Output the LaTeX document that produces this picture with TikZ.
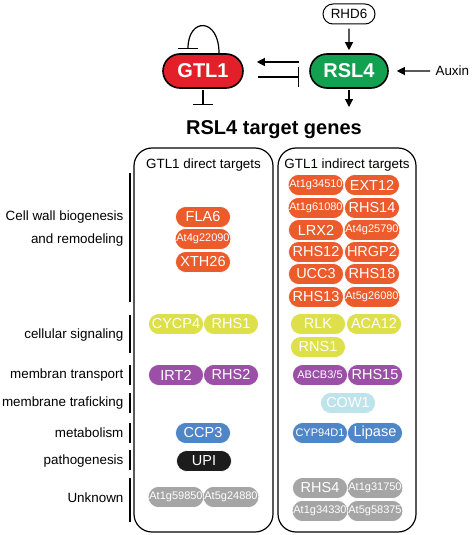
\documentclass[tikz,border=0pt]{standalone}
\usepackage{fontspec}
\setmainfont{Liberation Sans}
\usetikzlibrary{arrows.meta,shapes.misc}

\definecolor{gtlred}{HTML}{E3202A}
\definecolor{rslgreen}{HTML}{12A150}
\definecolor{cwall}{HTML}{EC5B2C}
\definecolor{signal}{HTML}{DDE04A}
\definecolor{transp}{HTML}{9B4FA6}
\definecolor{traffic}{HTML}{BDE4EA}
\definecolor{metab}{HTML}{4F86C8}
\definecolor{patho}{HTML}{1C1C1C}
\definecolor{unknown}{HTML}{A5A5A5}

\begin{document}
\begin{tikzpicture}[x=1pt, y=-1pt, font=\fontsize{13.4}{16}\selectfont, line width=1.2pt,
  tf/.style={rounded rectangle, draw=black, line width=1.6pt, text=white,
    font=\fontsize{20}{24}\selectfont\bfseries, minimum width=80pt, minimum height=34pt, inner sep=0pt},
  pill/.style={rounded rectangle, draw=white, line width=0.6pt, text=white,
    minimum width=55pt, minimum height=21pt, inner sep=0pt, font=\fontsize{14.5}{16}\selectfont},
  acc/.style={font=\fontsize{11}{12}\selectfont},
  act/.style={-{Triangle[length=8pt,width=8pt]}},
  inhib/.style={-{Bar[width=20pt]}},
  bracket/.style={line width=1.5pt},
  panel/.style={draw, rounded corners=18pt, line width=1.2pt},
  catlabel/.style={anchor=east, inner sep=0pt},
]
  \useasboundingbox (0,0) rectangle (474,535);

  % Regulators on top
  \node[tf, fill=gtlred] (gtl1) at (203,71) {GTL1};
  \node[tf, fill=rslgreen, minimum width=78pt] (rsl4) at (349,71) {RSL4};
  \node[rounded rectangle, draw, line width=1pt, minimum width=52pt, minimum height=20pt,
    inner sep=0pt] (rhd6) at (349,14) {RHD6};
  \node[anchor=west, inner sep=2pt] (auxin) at (433,71) {Auxin};
  \coordinate (gtl1out) at (203,105);
  \coordinate (rsl4out) at (349,107);

  \draw[act, shorten <=4pt, shorten >=3pt] (rhd6) -- (rsl4);
  \draw[act, shorten <=3pt, shorten >=8pt] (auxin) -- (rsl4);
  \draw[act, shorten <=1pt] (rsl4) -- (rsl4out);
  \draw[inhib, shorten <=1pt] (gtl1) -- (gtl1out);
  \draw[act, shorten <=10pt, shorten >=13pt] ([yshift=9pt]rsl4.west) -- ([yshift=9pt]gtl1.east);
  \draw[inhib, shorten <=14pt, shorten >=10pt] ([yshift=-6pt]gtl1.east) -- ([yshift=-6pt]rsl4.west);
  \draw[inhib] ([xshift=16pt]gtl1.north) .. controls +(0,-36) and +(0,-32) .. ([xshift=-15pt,yshift=4pt]gtl1.north);

  % Title and panels
  \node[font=\fontsize{20}{24}\selectfont\bfseries] (title) at (274,130) {RSL4 target genes};
  \draw[panel] (134,148) rectangle (273,532);
  \draw[panel] (278,148) rectangle (416,532);
  \node (direct) at (203.5,165) {GTL1 direct targets};
  \node (indirect) at (347,165) {GTL1 indirect targets};

  % Categories
  \draw[bracket] (130,173) -- (130,302);
  \draw[bracket] (130,315) -- (130,353);
  \draw[bracket] (130,365) -- (130,385);
  \draw[bracket] (130,393) -- (130,413);
  \draw[bracket] (130,423) -- (130,443);
  \draw[bracket] (130,450) -- (130,470);
  \draw[bracket] (130,478) -- (130,522);
  \node[catlabel] at (124,217) {Cell wall biogenesis};
  \node[catlabel] at (124,240) {and remodeling};
  \node[catlabel] at (124,335) {cellular signaling};
  \node[catlabel] at (124,375) {membran transport};
  \node[catlabel] at (124,403) {membrane traficking};
  \node[catlabel] at (124,433) {metabolism};
  \node[catlabel] at (124,461) {pathogenesis};
  \node[catlabel] at (124,498) {Unknown};

  % Direct targets
  \node[pill, fill=cwall] (fla6) at (203,217) {FLA6};
  \node[pill, fill=cwall, acc] (at4g22090) at (203,239) {At4g22090};
  \node[pill, fill=cwall] (xth26) at (203,262) {XTH26};
  \node[pill, fill=signal] (cycp4) at (176,324) {CYCP4};
  \node[pill, fill=signal] (rhs1) at (231,324) {RHS1};
  \node[pill, fill=transp] (irt2) at (176,375) {IRT2};
  \node[pill, fill=transp] (rhs2) at (231,375) {RHS2};
  \node[pill, fill=metab] (ccp3) at (203,433) {CCP3};
  \node[pill, fill=patho] (upi) at (204,461) {UPI};
  \node[pill, fill=unknown, acc] (at1g59850) at (176,497) {At1g59850};
  \node[pill, fill=unknown, acc] (at5g24880) at (231,497) {At5g24880};

  % Indirect targets
  \node[pill, fill=cwall, acc] (at1g34510) at (316,185) {At1g34510};
  \node[pill, fill=cwall] (ext12) at (372,185) {EXT12};
  \node[pill, fill=cwall, acc] (at1g61080) at (316,208) {At1g61080};
  \node[pill, fill=cwall] (rhs14) at (372,208) {RHS14};
  \node[pill, fill=cwall] (lrx2) at (316,230) {LRX2};
  \node[pill, fill=cwall, acc] (at4g25790) at (372,230) {At4g25790};
  \node[pill, fill=cwall] (rhs12) at (316,252) {RHS12};
  \node[pill, fill=cwall] (hrgp2) at (372,252) {HRGP2};
  \node[pill, fill=cwall] (ucc3) at (316,274) {UCC3};
  \node[pill, fill=cwall] (rhs18) at (372,274) {RHS18};
  \node[pill, fill=cwall] (rhs13) at (316,297) {RHS13};
  \node[pill, fill=cwall, acc] (at5g26080) at (372,297) {At5g26080};
  \node[pill, fill=signal] (rlk) at (318,324) {RLK};
  \node[pill, fill=signal] (aca12) at (374,324) {ACA12};
  \node[pill, fill=signal] (rns1) at (318,347) {RNS1};
  \node[pill, fill=transp, acc] (abcb35) at (320,375) {ABCB3/5};
  \node[pill, fill=transp] (rhs15) at (375,375) {RHS15};
  \node[pill, fill=traffic] (cow1) at (348,403) {COW1};
  \node[pill, fill=metab, acc] (cyp94d1) at (320,433) {CYP94D1};
  \node[pill, fill=metab] (lipase) at (375,433) {Lipase};
  \node[pill, fill=unknown] (rhs4) at (320,488) {RHS4};
  \node[pill, fill=unknown, acc] (at1g31750) at (375,488) {At1g31750};
  \node[pill, fill=unknown, acc] (at1g34330) at (320,511) {At1g34330};
  \node[pill, fill=unknown, acc] (at5g58375) at (375,511) {At5g58375};
\end{tikzpicture}
\end{document}
